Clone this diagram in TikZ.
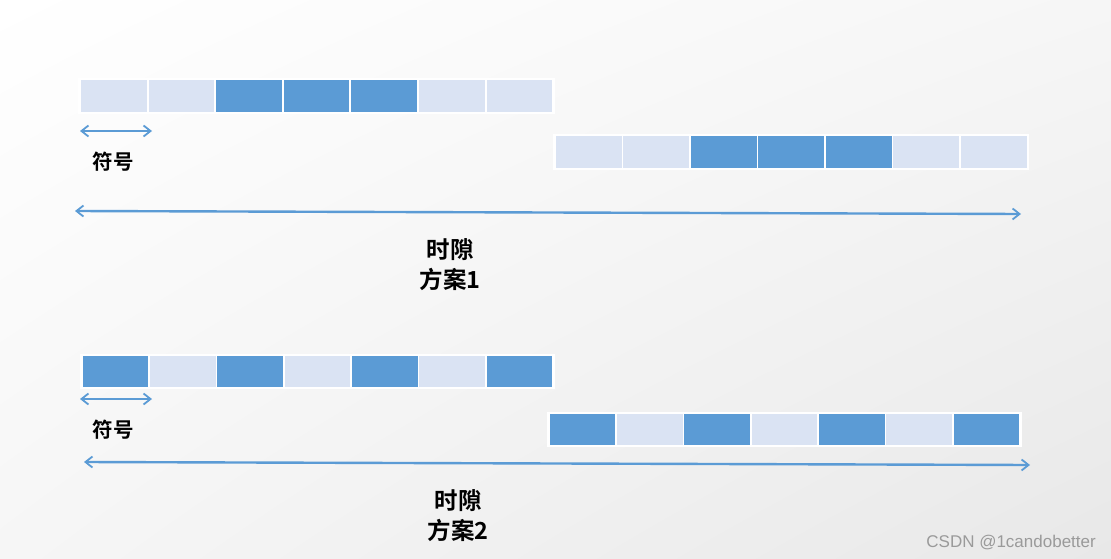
\documentclass[tikz,border=0pt]{standalone}
\usepackage{fontspec}
\newfontfamily\cjkb[BoldFont={Noto Sans CJK SC Bold}]{Noto Sans CJK SC}
\setsansfont{Liberation Sans}
\usetikzlibrary{arrows.meta,shadings}
\definecolor{darkcell}{HTML}{5B9BD5}
\definecolor{lightcell}{HTML}{DAE3F3}
\definecolor{arrowblue}{HTML}{5B9BD5}
\definecolor{wmgray}{HTML}{9A9A9A}
\definecolor{bgmid}{HTML}{F6F6F6}
\definecolor{bgdark}{HTML}{E8E8E8}
\tikzset{
  cell/.style={minimum width=65.6pt, minimum height=31.5pt, inner sep=0pt, draw=none},
  frame/.style={fill=white, draw=none},
  arr/.style={draw=arrowblue, line width=2.4pt, {Straight Barb[length=7pt,width=11pt,line width=1.8pt]}-{Straight Barb[length=7pt,width=11pt,line width=1.8pt]}},
  lbl/.style={font=\cjkb\bfseries\fontsize{23.5}{30}\selectfont, align=center, inner sep=0pt},
  sym/.style={font=\cjkb\bfseries\fontsize{20.5}{24}\selectfont, inner sep=0pt},
}
\begin{document}
\begin{tikzpicture}[x=1pt,y=-1pt]
\useasboundingbox (0,0) rectangle (1111,559);
\shade[upper left=white, upper right=bgmid, lower left=bgmid, lower right=bgdark] (0,0) rectangle (1111,559);

% scheme 1, bar 1
\fill[frame] (78,78) rectangle (555,114);
\foreach \i/\c in {1/lightcell,2/lightcell,3/darkcell,4/darkcell,5/darkcell,6/lightcell,7/lightcell}
  \node[cell, fill=\c] (a\i) at ({80+67.6*(\i-0.5)},96) {};
% scheme 1, bar 2
\fill[frame] (553,134) rectangle (1029,170);
\foreach \i/\c in {1/lightcell,2/lightcell,3/darkcell,4/darkcell,5/darkcell,6/lightcell,7/lightcell}
  \node[cell, fill=\c] (b\i) at ({555+67.5*(\i-0.5)},152) {};

\coordinate (s1l) at (80,131);
\coordinate (s1r) at (152,131);
\draw[arr] (s1l) -- (s1r);
\node[sym] (sym1) at (113,162) {符号};

\coordinate (t1l) at (75,211);
\coordinate (t1r) at (1021,214);
\draw[arr] (t1l) -- (t1r);
\node[lbl] (lab1) at (450,265) {时隙\\方案1};

% scheme 2, bar 1
\fill[frame] (80,354) rectangle (555,389);
\foreach \i/\c in {1/darkcell,2/lightcell,3/darkcell,4/lightcell,5/darkcell,6/lightcell,7/darkcell}
  \node[cell, fill=\c] (c\i) at ({82+67.3*(\i-0.5)},371.5) {};
% scheme 2, bar 2
\fill[frame] (547,412) rectangle (1022,447);
\foreach \i/\c in {1/darkcell,2/lightcell,3/darkcell,4/lightcell,5/darkcell,6/lightcell,7/darkcell}
  \node[cell, fill=\c] (d\i) at ({549+67.3*(\i-0.5)},429.5) {};

\coordinate (s2l) at (80,399);
\coordinate (s2r) at (152,399);
\draw[arr] (s2l) -- (s2r);
\node[sym] (sym2) at (113,430) {符号};

\coordinate (t2l) at (84,462);
\coordinate (t2r) at (1030,465);
\draw[arr] (t2l) -- (t2r);
\node[lbl] (lab2) at (458,516) {时隙\\方案2};

\node[font=\sffamily\fontsize{17}{19}\selectfont, text=wmgray, anchor=east, inner sep=0pt] (wm) at (1096,543) {CSDN @1candobetter};
\end{tikzpicture}
\end{document}
